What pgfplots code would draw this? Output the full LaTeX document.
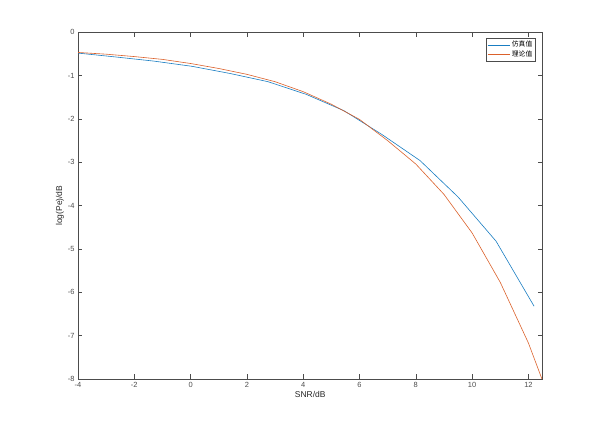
\documentclass[border=0pt]{standalone}
\usepackage{fontspec}
\setmainfont{Liberation Sans}
\newfontfamily\cjk{Noto Sans CJK SC}
\usepackage{pgfplots}
\pgfplotsset{compat=1.18}
\definecolor{mblue}{rgb}{0.1,0.49,0.76}
\definecolor{morange}{rgb}{0.86,0.38,0.17}
\definecolor{axgray}{rgb}{0.3,0.3,0.3}
\begin{document}
\begin{tikzpicture}
\useasboundingbox (-78bp,-49bp) rectangle (522bp,379bp);
\begin{axis}[
  at={(0,0)}, anchor=south west,
  scale only axis, width=464.5bp, height=346.7bp,
  xmin=-4, xmax=12.5, ymin=-8, ymax=0,
  xtick={-4,-2,...,12}, ytick={-8,-7,...,0},
  tick align=inside, major tick length=4.5bp,
  axis line style={axgray, line width=0.5bp},
  tick style={axgray, line width=0.5bp},
  every tick label/.append style={font=\fontsize{7.5}{9}\selectfont, text=axgray},
  /pgf/number format/assume math mode=true,
  xlabel={SNR/dB}, ylabel={log(Pe)/dB},
  label style={font=\fontsize{8.5}{10}\selectfont, text=black!85},
  xlabel style={yshift=3bp},
  ylabel style={yshift=-3bp},
  legend style={at={(0.985,0.9835)}, anchor=north east, draw=axgray, line width=0.5bp,
    font=\fontsize{6.8}{8}\selectfont, inner sep=1bp, row sep=-1.5bp,
    cells={anchor=west}},
  legend image code/.code={\draw[#1] (0bp,0bp) -- (22bp,0bp);},
]
\addplot[mblue, line width=0.6bp] coordinates {
(-4,-0.48) (-2.65,-0.57) (-1.3,-0.665) (0.05,-0.785) (1.4,-0.95) (2.75,-1.14)
(4.1,-1.43) (5.45,-1.81) (6.8,-2.36) (8.15,-2.96) (9.5,-3.80) (10.85,-4.82) (12.2,-6.32)};
\addlegendentry{{\cjk 仿真值}}
\addplot[morange, line width=0.6bp] coordinates {
(-4,-0.465) (-3,-0.505) (-2,-0.56) (-1,-0.625) (0,-0.72) (1,-0.835) (2,-0.97)
(3,-1.14) (4,-1.37) (5,-1.66) (6,-2.01) (7,-2.50) (8,-3.04) (9,-3.74)
(10,-4.63) (11,-5.77) (12,-7.17) (13,-8.9)};
\addlegendentry{{\cjk 理论值}}
\end{axis}
\end{tikzpicture}
\end{document}
